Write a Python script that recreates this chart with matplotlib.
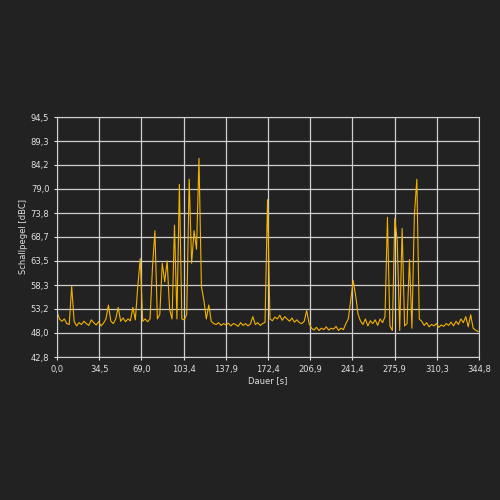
import numpy as np
import matplotlib
matplotlib.use("Agg")
import matplotlib.pyplot as plt

# sound level, one value every 2 s
level = [
    52.5, 51, 50.5, 51, 50, 49.8, 58, 50.5, 49.5, 50.2,
    49.8, 50.5, 50, 49.6, 50.8, 50.2, 49.7, 50.4, 49.5, 50.1,
    51, 54, 50.5, 50, 51, 53.5, 50.5, 51.2, 50.4, 51,
    50.6, 53.5, 50.8, 58, 64, 50.5, 51, 50.4, 51, 62,
    70, 51, 52, 63, 59, 63.5, 53, 51, 71.2, 51,
    80, 51, 50.8, 52, 81.1, 63, 70, 66, 85.6, 58,
    55, 51, 54, 50.5, 50, 49.8, 50.2, 49.6, 50, 49.7,
    50.1, 49.5, 50, 49.8, 49.4, 50.2, 49.6, 50, 49.5, 49.9,
    51.5, 49.8, 50.2, 49.6, 50, 50.3, 76.7, 51, 50.6, 51.4,
    51, 51.8, 50.7, 51.5, 51, 50.5, 51.2, 50.3, 50.8, 50.2,
    50, 50.5, 52.8, 50, 49, 48.6, 49.2, 48.5, 49, 48.7,
    49.3, 48.6, 49, 48.8, 49.4, 48.5, 49, 48.7, 50, 51,
    55, 59.3, 56, 52, 50.5, 49.8, 51, 49.5, 50.6, 50,
    50.8, 49.6, 51, 50.2, 51.5, 72.9, 49.5, 48.5, 72.7, 67.8,
    48.5, 70.5, 49.5, 50, 63.8, 49, 73.4, 81.1, 51, 50.5,
    49.6, 50.2, 49.3, 49.8, 49.5, 50, 49.2, 49.7, 49.4, 50,
    49.6, 50.3, 49.5, 50.5, 49.8, 51, 50.2, 51.5, 49.3, 51.9,
    49, 48.6, 48.3,
]
time = np.arange(len(level)) * 2.0

xticks = [0.0, 34.5, 69.0, 103.4, 137.9, 172.4, 206.9, 241.4, 275.9, 310.3, 344.8]
yticks = [42.8, 48.0, 53.2, 58.3, 63.5, 68.7, 73.8, 79.0, 84.2, 89.3, 94.5]

bg = "#222222"
fig = plt.figure(figsize=(5, 5), dpi=100, facecolor=bg)
ax = fig.add_axes([0.114, 0.286, 0.844, 0.48], facecolor=bg)

ax.plot(time, level, color="#f2b200", lw=0.8)

ax.set_xlim(0, 344.8)
ax.set_ylim(42.8, 94.5)
ax.set_xticks(xticks)
ax.set_xticklabels([f"{v:.1f}".replace(".", ",") for v in xticks])
ax.set_yticks(yticks)
ax.set_yticklabels([f"{v:.1f}".replace(".", ",") for v in yticks])
ax.grid(True, color="#d0d0d0", lw=0.9)
ax.tick_params(colors="#e0e0e0", labelsize=6, length=2)
for s in ax.spines.values():
    s.set_color("#d0d0d0")
ax.set_xlabel("Dauer [s]", color="#e0e0e0", fontsize=6, labelpad=2)
ax.set_ylabel("Schallpegel [dBC]", color="#e0e0e0", fontsize=6, labelpad=2)

fig.savefig("out.png", dpi=100, facecolor=bg)
